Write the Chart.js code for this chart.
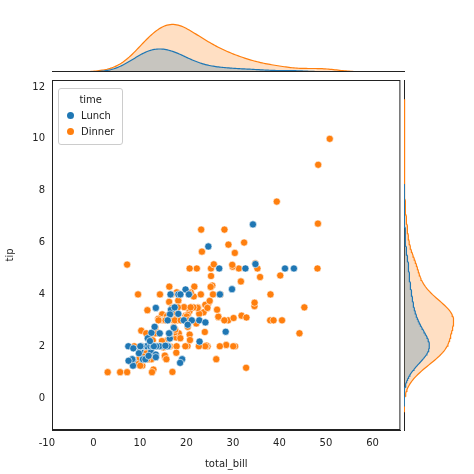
<!DOCTYPE html>
<html><head><meta charset="utf-8">
<script src="https://cdn.jsdelivr.net/npm/chart.js@4"></script>
<style>
body{margin:0;background:#fff;font-family:"DejaVu Sans",sans-serif}
#wrap{position:relative;width:474px;height:474px}
canvas{position:absolute}
#leg{position:absolute;left:58px;top:88px;border:1px solid #ccc;border-radius:3px;background:rgba(255,255,255,0.85);padding:3px 8px 4px 8px;font-size:10px;color:#222;line-height:16px}
#leg .d{display:inline-block;width:7px;height:7px;border-radius:50%;margin-right:7px}
</style></head><body>
<div id="wrap">
<canvas id="top" style="left:0;top:0"></canvas>
<canvas id="main" style="left:0;top:70px"></canvas>
<canvas id="right" style="left:400px;top:70px"></canvas>
<div id="leg"><div style="text-align:center">time</div><div><span class="d" style="background:#1f77b4"></span>Lunch</div><div><span class="d" style="background:#ff7f0e"></span>Dinner</div></div>
</div>
<script>
const lunchBill=[27.2,22.76,17.29,19.44,16.66,10.07,32.68,15.98,34.83,13.03,18.28,24.71,21.16,10.65,12.43,24.08,11.69,13.42,14.26,15.95,12.48,29.8,8.52,14.52,11.38,22.82,19.08,20.27,11.17,12.26,18.26,8.51,10.33,14.15,16.0,13.16,17.47,34.3,41.19,27.05,16.43,8.35,18.64,11.87,9.78,7.51,19.81,28.44,15.48,16.58,7.56,10.34,43.11,13.0,13.51,18.71,12.74,13.0,16.4,20.53,16.47,12.16,13.42,8.58,13.42,16.27,10.09,15.98];
const lunchTip=[4.0,3.0,2.71,3.0,3.4,1.83,5.0,2.03,5.17,2.0,4.0,5.85,3.0,1.5,1.8,2.92,2.31,1.68,2.5,2.0,2.52,4.2,1.48,2.0,2.0,2.18,1.5,2.83,1.5,2.0,3.25,1.25,2.0,2.0,2.0,2.75,3.5,6.7,5.0,5.0,2.3,1.5,1.36,1.63,1.73,2.0,4.19,2.56,2.02,4.0,1.44,2.0,5.0,2.0,2.0,4.0,2.01,2.0,2.5,4.0,3.23,2.2,3.48,1.92,1.58,2.5,2.0,3.0];
const dinnerBill=[16.99,10.34,21.01,23.68,24.59,25.29,8.77,26.88,15.04,14.78,10.27,35.26,15.42,18.43,14.83,21.58,10.33,16.29,16.97,20.65,17.92,20.29,15.77,39.42,19.82,17.81,13.37,12.69,21.7,19.65,9.55,18.35,15.06,20.69,17.78,24.06,16.31,16.93,18.69,31.27,16.04,17.46,13.94,9.68,30.4,18.29,22.23,32.4,28.55,18.04,12.54,10.29,34.81,9.94,25.56,19.49,38.01,26.41,11.24,48.27,20.29,13.81,11.02,18.29,17.59,20.08,16.45,3.07,20.23,15.01,12.02,17.07,26.86,25.28,14.73,10.51,17.92,28.97,22.49,5.75,16.32,22.75,40.17,27.28,12.03,21.01,12.46,11.35,15.38,44.3,22.42,20.92,15.36,20.49,25.21,18.24,14.31,14.0,7.25,38.07,23.95,25.71,17.31,29.93,14.07,13.13,17.26,24.55,19.77,29.85,48.17,25.0,13.39,16.49,21.5,12.66,16.21,13.81,17.51,24.52,20.76,31.71,10.59,10.63,50.81,15.81,7.25,31.85,16.82,32.9,17.89,14.48,9.6,34.63,34.65,23.33,45.35,23.17,40.55,20.69,20.9,30.46,18.15,23.1,15.69,26.59,38.73,24.27,12.76,30.06,25.89,48.33,13.27,28.17,12.9,28.15,11.59,7.74,30.14,15.98,20.45,13.28,22.12,24.01,15.69,11.61,10.77,15.53,10.07,12.6,32.83,35.83,29.03,27.18,22.67,17.82,18.78];
const dinnerTip=[1.01,1.66,3.5,3.31,3.61,4.71,2.0,3.12,1.96,3.23,1.71,5.0,1.57,3.0,3.02,3.92,1.67,3.71,3.5,3.35,4.08,2.75,2.23,7.58,3.18,2.34,2.0,2.0,4.3,3.0,1.45,2.5,3.0,2.45,3.27,3.6,2.0,3.07,2.31,5.0,2.24,2.54,3.06,1.32,5.6,3.0,5.0,6.0,2.05,3.0,2.5,2.6,5.2,1.56,4.34,3.51,3.0,1.5,1.76,6.73,3.21,2.0,1.98,3.76,2.64,3.15,2.47,1.0,2.01,2.09,1.97,3.0,3.14,5.0,2.2,1.25,3.08,3.0,3.5,1.0,4.3,3.25,4.73,4.0,1.5,3.0,1.5,2.5,3.0,2.5,3.48,4.08,1.64,4.06,4.29,3.76,4.0,3.0,1.0,4.0,2.55,4.0,3.5,5.07,2.5,2.0,2.74,2.0,2.0,5.14,5.0,3.75,2.61,2.0,3.5,2.5,2.0,2.0,3.0,3.48,2.24,4.5,1.61,2.0,10.0,3.16,5.15,3.18,4.0,3.11,2.0,2.0,4.0,3.55,3.68,5.65,3.5,6.5,3.0,5.0,3.5,2.0,3.5,4.0,1.5,3.41,3.0,2.03,2.23,2.0,5.16,9.0,2.5,6.5,1.1,3.0,1.5,1.44,3.09,3.0,3.0,2.72,2.88,2.0,3.0,3.39,1.47,3.0,1.25,1.0,1.17,4.67,5.92,2.0,2.0,1.75,3.0];
const xTicks=[-10,0,10,20,30,40,50,60];
const yTicks=[0,2,4,6,8,10,12];
const BLUE='#1f77b4',ORANGE='#ff7f0e';
const XMIN=-8.9,XMAX=66,YMIN=-1.23,YMAX=12.27;
const N=lunchBill.length+dinnerBill.length;
function kde(d){const n=d.length,m=d.reduce((a,b)=>a+b)/n;const sd=Math.sqrt(d.reduce((a,b)=>a+(b-m)**2,0)/(n-1));const bw=sd*Math.pow(n,-0.2);const a=Math.min(...d)-3*bw,b=Math.max(...d)+3*bw;const out=[];for(let i=0;i<=200;i++){const x=a+(b-a)*i/200;let s=0;for(const v of d)s+=Math.exp(-0.5*((x-v)/bw)**2);out.push([x,s/(n*bw*Math.sqrt(2*Math.PI))*n/N]);}return out;}
const pts=(xs,ys)=>xs.map((x,i)=>({x,y:ys[i]}));
Chart.defaults.font.family='"DejaVu Sans",sans-serif';
Chart.defaults.font.size=10;Chart.defaults.color='#222';
function sz(id,w,h){const c=document.getElementById(id);c.style.width=w+'px';c.style.height=h+'px';c.width=w;c.height=h;return c;}
const boxPlug={id:'box',afterDraw(c){const a=c.chartArea,x=c.ctx;x.save();x.strokeStyle='#222';x.lineWidth=1;x.strokeRect(a.left+0.5,a.top+0.5,a.right-a.left-1,a.bottom-a.top-1);x.restore();}};
const botPlug={id:'bot',afterDraw(c){const a=c.chartArea,x=c.ctx;x.save();x.strokeStyle='#222';x.lineWidth=1;x.beginPath();x.moveTo(a.left,a.bottom-0.5);x.lineTo(a.right,a.bottom-0.5);x.stroke();x.restore();}};
new Chart(sz('main',405,404),{type:'scatter',data:{datasets:[
 {label:'Lunch',data:pts(lunchBill,lunchTip),backgroundColor:BLUE,borderColor:'#fff',borderWidth:0.6,pointRadius:3.6},
 {label:'Dinner',data:pts(dinnerBill,dinnerTip),backgroundColor:ORANGE,borderColor:'#fff',borderWidth:0.6,pointRadius:3.6}]},
 options:{animation:false,responsive:false,layout:{padding:{top:10,right:0,left:0,bottom:0}},plugins:{legend:{display:false},tooltip:{enabled:false}},
 scales:{x:{type:'linear',min:XMIN,max:XMAX,afterBuildTicks(s){s.ticks=xTicks.map(v=>({value:v}));},grid:{display:false,tickLength:4,color:'#222'},border:{color:'#222'},ticks:{color:'#222'},title:{display:true,text:'total_bill',color:'#222',padding:{top:2}},afterFit(s){s.height=44;}},
 y:{type:'linear',min:YMIN,max:YMAX,afterBuildTicks(s){s.ticks=yTicks.map(v=>({value:v}));},grid:{display:false,tickLength:4,color:'#222'},border:{color:'#222'},ticks:{color:'#222'},title:{display:true,text:'tip',color:'#222'},afterFit(s){s.width=52;}}}},plugins:[boxPlug]});
const topSets=[['Lunch',lunchBill,BLUE],['Dinner',dinnerBill,ORANGE]].map(([l,d,c])=>({label:l,data:kde(d).map(p=>({x:p[0],y:p[1]})),borderColor:c,backgroundColor:c+'40',fill:'origin',pointRadius:0,borderWidth:1.2,tension:0,showLine:true}));
new Chart(sz('top',405,72),{type:'scatter',data:{datasets:topSets},options:{animation:false,responsive:false,layout:{padding:{top:10,bottom:0,left:52,right:0}},plugins:{legend:{display:false},tooltip:{enabled:false}},
 scales:{x:{type:'linear',display:false,min:XMIN,max:XMAX},y:{min:0,max:0.047,display:false}}},plugins:[botPlug]});
const rSets=[['Lunch',lunchTip,BLUE],['Dinner',dinnerTip,ORANGE]].map(([l,d,c])=>({label:l,data:kde(d).map(p=>({y:p[0],x:p[1]})),borderColor:c,backgroundColor:c+'40',fill:'origin',pointRadius:0,borderWidth:1.2,tension:0}));
new Chart(sz('right',74,404),{type:'line',data:{datasets:rSets},options:{indexAxis:'y',animation:false,responsive:false,layout:{padding:{top:10,right:12,left:4,bottom:0}},plugins:{legend:{display:false},tooltip:{enabled:false}},
 scales:{y:{type:'linear',min:YMIN,max:YMAX,ticks:{display:false},grid:{display:false,drawTicks:false},border:{color:'#222'},afterFit(s){s.width=0;}},x:{type:'linear',min:0,max:0.26,ticks:{display:false},grid:{display:false,drawTicks:false},border:{display:false},afterFit(s){s.height=44;}}}}});
</script></body></html>
